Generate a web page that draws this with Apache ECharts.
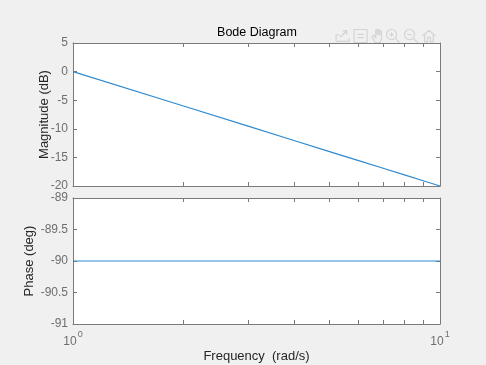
<!DOCTYPE html>
<html>
<head>
<meta charset="utf-8">
<script src="https://cdn.jsdelivr.net/npm/echarts@6/dist/echarts.min.js"></script>
<style>
html,body{margin:0;padding:0;background:#f0f0f0;}
#c{width:486px;height:365px;}
</style>
</head>
<body>
<div id="c"></div>
<script>
// Data
var frequency = [1, 2, 3, 4, 5, 6, 7, 8, 9, 10];               // rad/s
var magnitudeDb = [0, -6.02, -9.54, -12.04, -13.98, -15.56, -16.9, -18.06, -19.08, -20];
var phaseDeg = [-90, -90, -90, -90, -90, -90, -90, -90, -90, -90];
var freqTickLabels = [1, 10];
var freqMinorTicks = [1, 2, 3, 4, 5, 6, 7, 8, 9, 10];
var magTicks = {min: -20, max: 5, interval: 5};
var phaseTicks = {min: -91, max: -89, interval: 0.5};

var FONT = '"Liberation Sans", Arial, Helvetica, sans-serif';
var tickColor = '#6e6e6e';
var boxColor = '#7a7a7a';
var lineColor = '#2f8ad0';

function pairs(xs, ys) { return xs.map(function (x, i) { return [x, ys[i]]; }); }

function xAx(grid, pos, showLabels, name) {
  return {
    type: 'log', logBase: 10, min: 1, max: 10, gridIndex: grid, position: pos,
    axisLine: {show: true, onZero: false, lineStyle: {color: boxColor, width: 1}},
    axisTick: {show: true, inside: true, length: 4, customValues: freqMinorTicks, lineStyle: {color: boxColor}},
    axisLabel: showLabels ? {
      show: true, customValues: freqTickLabels, margin: 6,
      formatter: function (v) { return '{b|10}{s|' + Math.round(Math.log10(v)) + '}'; },
      rich: {
        b: {fontSize: 12, color: tickColor, fontFamily: FONT, lineHeight: 18, verticalAlign: 'bottom'},
        s: {fontSize: 9, color: tickColor, fontFamily: FONT, lineHeight: 18, verticalAlign: 'top', padding: [0, 0, 0, 1]}
      }
    } : {show: false},
    splitLine: {show: false},
    name: name || '', nameLocation: 'middle', nameGap: 26, nameMoveOverlap: false,
    nameTextStyle: {fontSize: 13, color: '#262626', fontFamily: FONT}
  };
}
function yAx(grid, pos, t, showLabels, name, gap) {
  return {
    type: 'value', gridIndex: grid, position: pos, min: t.min, max: t.max, interval: t.interval,
    axisLine: {show: true, onZero: false, lineStyle: {color: boxColor, width: 1}},
    axisTick: {show: true, inside: true, length: 4, lineStyle: {color: boxColor}},
    axisLabel: {show: showLabels, fontSize: 12, color: tickColor, fontFamily: FONT, margin: 5},
    splitLine: {show: false},
    name: name || '', nameLocation: 'middle', nameGap: gap || 30, nameMoveOverlap: false,
    nameTextStyle: {fontSize: 13, color: '#262626', fontFamily: FONT}
  };
}

var chart = echarts.init(document.getElementById('c'), null, {renderer: 'canvas'});
chart.setOption({
  animation: false,
  backgroundColor: '#f0f0f0',
  title: {
    text: 'Bode Diagram', left: 252, top: 21, textAlign: 'center',
    textStyle: {fontSize: 12.5, fontWeight: 'normal', color: '#000', fontFamily: FONT}
  },
  toolbox: {
    show: true, right: 48, top: 27, itemSize: 13, itemGap: 0, padding: 0,
    iconStyle: {borderColor: '#d4d4d4', color: 'none', borderWidth: 1.2},
    emphasis: {iconStyle: {borderColor: '#d4d4d4'}},
    feature: {
      myExport: {show: true, title: '', icon: 'path://M4 20 L4 12 L8 12 M4 20 L20 20 L20 16 M9 15 L17 7 M12 7 L17 7 L17 12', onclick: function () {}},
      myTip: {show: true, title: '', icon: 'path://M4 4 H20 V20 H4 Z M8 10 H16 M8 14 H16', onclick: function () {}},
      myPan: {show: true, title: '', icon: 'path://M8 21 L4 13 L6 11 L9 14 L9 4 L11 4 L11 11 L11 3 L13 3 L13 11 L13 4 L15 4 L15 11 L15 6 L17 6 L17 16 L15 21 Z', onclick: function () {}},
      myZin: {show: true, title: '', icon: 'path://M10 3 A7 7 0 1 1 9.99 3 Z M15 15 L21 21 M7 10 H13 M10 7 V13', onclick: function () {}},
      myZout: {show: true, title: '', icon: 'path://M10 3 A7 7 0 1 1 9.99 3 Z M15 15 L21 21 M7 10 H13', onclick: function () {}},
      myHome: {show: true, title: '', icon: 'path://M3 12 L12 4 L21 12 M6 10 V20 H10 V14 H14 V20 H18 V10', onclick: function () {}}
    }
  },
  grid: [
    {left: 73, right: 46, top: 43, height: 143, show: true, backgroundColor: '#ffffff', borderWidth: 0},
    {left: 73, right: 46, top: 198, height: 126, show: true, backgroundColor: '#ffffff', borderWidth: 0}
  ],
  xAxis: [
    xAx(0, 'bottom', false),
    xAx(0, 'top', false),
    xAx(1, 'bottom', true, 'Frequency  (rad/s)'),
    xAx(1, 'top', false)
  ],
  yAxis: [
    yAx(0, 'left', magTicks, true, 'Magnitude (dB)', 22),
    yAx(0, 'right', magTicks, false),
    yAx(1, 'left', phaseTicks, true, 'Phase (deg)', 37),
    yAx(1, 'right', phaseTicks, false)
  ],
  series: [
    {type: 'line', xAxisIndex: 0, yAxisIndex: 0, data: pairs(frequency, magnitudeDb),
     showSymbol: false, lineStyle: {color: lineColor, width: 1.2}, itemStyle: {color: lineColor}},
    {type: 'line', xAxisIndex: 2, yAxisIndex: 2, data: pairs(frequency, phaseDeg),
     showSymbol: false, lineStyle: {color: lineColor, width: 1.2}, itemStyle: {color: lineColor}}
  ]
});
</script>
</body>
</html>
